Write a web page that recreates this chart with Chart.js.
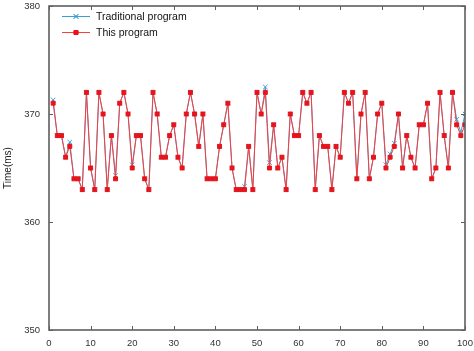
<!DOCTYPE html>
<html>
<head>
<meta charset="utf-8">
<script src="https://cdn.jsdelivr.net/npm/chart.js@4.4.1/dist/chart.umd.min.js"></script>
<style>
  html, body { margin: 0; padding: 0; background: #fff; }
  #wrap { width: 474px; height: 351px; }
</style>
</head>
<body>
<div id="wrap"><canvas id="timeChart" width="474" height="351"></canvas></div>
<script>
// run number on the x axis
var runs = Array.from({ length: 100 }, function (_, i) { return i + 1; });

var traditionalTimes = [
  371.3, 368, 368, 366, 367.4, 364, 364, 363, 372, 365,
  363, 372, 370, 363, 368, 364.3, 371, 372, 370, 365.3,
  368, 368, 364, 363, 372, 370, 366, 366, 368, 369,
  366, 365, 370, 372, 370, 367, 370, 364, 364, 364,
  367, 369, 371, 365, 363, 363, 363.3, 367, 363, 372,
  370, 372.5, 365.5, 369, 365, 366, 363, 370, 368, 368,
  372, 371, 372, 363, 368, 367, 367, 363, 367, 366,
  372, 371, 372, 364, 370, 372, 364, 366, 370, 371,
  365.3, 366.3, 367.3, 370, 365, 368, 366, 365, 369, 369,
  371, 364, 365, 372, 368, 365, 372, 369.5, 368.3, 370
];

var thisTimes = [
  371, 368, 368, 366, 367, 364, 364, 363, 372, 365,
  363, 372, 370, 363, 368, 364, 371, 372, 370, 365,
  368, 368, 364, 363, 372, 370, 366, 366, 368, 369,
  366, 365, 370, 372, 370, 367, 370, 364, 364, 364,
  367, 369, 371, 365, 363, 363, 363, 367, 363, 372,
  370, 372, 365, 369, 365, 366, 363, 370, 368, 368,
  372, 371, 372, 363, 368, 367, 367, 363, 367, 366,
  372, 371, 372, 364, 370, 372, 364, 366, 370, 371,
  365, 366, 367, 370, 365, 368, 366, 365, 369, 369,
  371, 364, 365, 372, 368, 365, 372, 369, 368, 369
];

var xTicks = [0, 10, 20, 30, 40, 50, 60, 70, 80, 90, 100];
var yTicks = [350, 360, 370, 380];

var FONT = "'Liberation Sans', Arial, sans-serif";

function toPoints(vals) {
  return runs.map(function (r, i) { return { x: r, y: vals[i] }; });
}

// box round the plot with inward tick marks
var framePlugin = {
  id: "frame",
  afterDatasetsDraw: function (chart) {
    var ctx = chart.ctx;
    var a = chart.chartArea;
    var xs = chart.scales.x, ys = chart.scales.y;
    ctx.save();
    ctx.strokeStyle = "#5e5e5e";
    ctx.lineWidth = 1;
    xTicks.forEach(function (v) {
      var px = Math.round(xs.getPixelForValue(v)) + 0.5;
      ctx.beginPath();
      ctx.moveTo(px, a.bottom); ctx.lineTo(px, a.bottom - 4);
      ctx.moveTo(px, a.top); ctx.lineTo(px, a.top + 4);
      ctx.stroke();
    });
    yTicks.forEach(function (v) {
      var py = Math.round(ys.getPixelForValue(v)) + 0.5;
      ctx.beginPath();
      ctx.moveTo(a.left, py); ctx.lineTo(a.left + 4, py);
      ctx.moveTo(a.right, py); ctx.lineTo(a.right - 4, py);
      ctx.stroke();
    });
    ctx.lineWidth = 1.6;
    ctx.strokeRect(a.left, a.top, a.right - a.left, a.bottom - a.top);
    ctx.restore();
  }
};

// legend in the top left corner, line + marker + label
var legendPlugin = {
  id: "cornerLegend",
  afterDraw: function (chart) {
    var ctx = chart.ctx;
    var a = chart.chartArea;
    ctx.save();
    chart.data.datasets.forEach(function (ds, i) {
      var y = a.top + 10.5 + i * 16;
      var x0 = a.left + 13, x1 = a.left + 41;
      ctx.strokeStyle = ds.borderColor;
      ctx.lineWidth = 1;
      ctx.beginPath();
      ctx.moveTo(x0, y); ctx.lineTo(x1, y);
      ctx.stroke();
      Chart.helpers.drawPoint(ctx, {
        pointStyle: ds.pointStyle,
        radius: ds.pointRadius,
        borderWidth: 1
      }, (x0 + x1) / 2, y);
      ctx.fillStyle = ds.pointBackgroundColor;
      ctx.strokeStyle = ds.pointBorderColor;
      ctx.fill();
      ctx.stroke();
      ctx.fillStyle = "#111";
      ctx.font = "10.5px " + FONT;
      ctx.textBaseline = "middle";
      ctx.textAlign = "left";
      ctx.fillText(ds.label, a.left + 47, y + 0.5);
    });
    ctx.restore();
  }
};

var ctx = document.getElementById("timeChart").getContext("2d");
var timeChart = new Chart(ctx, {
  type: "line",
  data: {
    datasets: [
      {
        label: "Traditional program",
        data: toPoints(traditionalTimes),
        borderColor: "#3a9fd6",
        borderWidth: 1,
        pointStyle: "crossRot",
        pointRadius: 3.2,
        pointBorderWidth: 1,
        pointBorderColor: "#3a9fd6",
        pointBackgroundColor: "#3a9fd6",
        tension: 0,
        order: 2
      },
      {
        label: "This program",
        data: toPoints(thisTimes),
        borderColor: "#ff3b3b",
        borderWidth: 1,
        pointStyle: "rect",
        pointRadius: 2.8,
        pointBorderWidth: 1,
        pointBorderColor: "#e8131b",
        pointBackgroundColor: "#e8131b",
        tension: 0,
        order: 1
      }
    ]
  },
  options: {
    responsive: false,
    animation: false,
    devicePixelRatio: 1,
    layout: { padding: { top: 6, right: 9, left: 0, bottom: 0 } },
    plugins: {
      legend: { display: false },
      tooltip: { enabled: false }
    },
    scales: {
      x: {
        type: "linear",
        min: 0,
        max: 100,
        grid: { display: false, drawTicks: false },
        border: { display: false },
        afterBuildTicks: function (scale) {
          scale.ticks = xTicks.map(function (v) { return { value: v }; });
        },
        afterFit: function (scale) {
          scale.height = 21;
          scale.paddingLeft = 0;
          scale.paddingRight = 0;
        },
        ticks: {
          padding: 8,
          color: "#333",
          font: { family: FONT, size: 9.5 },
          maxRotation: 0
        }
      },
      y: {
        min: 350,
        max: 380,
        grid: { display: false, drawTicks: false },
        border: { display: false },
        afterBuildTicks: function (scale) {
          scale.ticks = yTicks.map(function (v) { return { value: v }; });
        },
        afterFit: function (scale) {
          scale.width = 49;
          scale.paddingTop = 0;
          scale.paddingBottom = 0;
        },
        ticks: {
          padding: 9,
          color: "#333",
          font: { family: FONT, size: 9.5 }
        },
        title: {
          display: true,
          text: "Time(ms)",
          color: "#222",
          font: { family: FONT, size: 10 },
          padding: { top: 2, bottom: 0 }
        }
      }
    }
  },
  plugins: [framePlugin, legendPlugin]
});
</script>
</body>
</html>
